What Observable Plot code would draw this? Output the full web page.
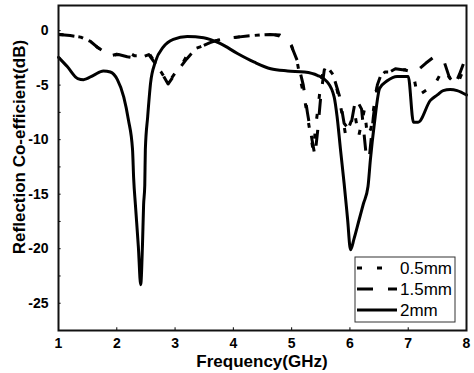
<!DOCTYPE html>
<html>
<head>
<meta charset="utf-8">
<script src="https://cdn.jsdelivr.net/npm/d3@7"></script>
<script src="https://cdn.jsdelivr.net/npm/@observablehq/plot@0.6"></script>
<style>
  html, body { margin: 0; padding: 0; background: #fff; }
  svg { font-family: "Liberation Sans", Arial, sans-serif; }
</style>
</head>
<body>
<div id="chart"></div>
<script>
// ---- data ----
const freq2mm = [1.0, 1.15, 1.33, 1.43, 1.6, 1.77, 1.89, 2.01, 2.12, 2.2, 2.27, 2.29, 2.32, 2.37, 2.41, 2.44, 2.46, 2.48, 2.49, 2.53, 2.58, 2.66, 2.8, 2.97, 3.21, 3.49, 3.78, 4.07, 4.36, 4.64, 4.93, 5.22, 5.44, 5.61, 5.73, 5.78, 5.84, 5.9, 5.96, 6.01, 6.07, 6.16, 6.23, 6.31, 6.35, 6.42, 6.51, 6.64, 6.81, 7.0, 7.09, 7.17, 7.38, 7.5, 7.6, 7.72, 7.84, 8.0];
const s2mm = [-2.45, -3.3, -4.4, -4.5, -4.1, -3.7, -3.8, -4.5, -6.1, -8.2, -10.9, -13.6, -16, -19.8, -23.3, -19.8, -16, -14.2, -10.9, -7.9, -4.8, -2.9, -1.5, -0.8, -0.55, -0.65, -1.2, -2.1, -2.9, -3.5, -3.7, -3.8, -4.1, -4.7, -6.1, -7.9, -11, -14, -17.3, -20.1, -19.1, -17.3, -15.9, -14.3, -11.9, -8.5, -5.3, -4.6, -4.2, -4.2, -8.4, -8.4, -6.4, -5.9, -5.5, -5.4, -5.5, -5.9];

const freq15mm = [1.0, 1.2, 1.38, 1.55, 1.66, 1.77, 1.9, 2.03, 2.18, 2.29, 2.36, 2.45, 2.55, 2.63, 2.7, 2.76, 2.88, 3.0, 3.1, 3.2, 3.3, 3.43, 3.6, 3.72, 3.9, 4.07, 4.24, 4.45, 4.63, 4.8, 4.9, 4.98, 5.1, 5.2, 5.27, 5.35, 5.4, 5.45, 5.5, 5.56, 5.65, 5.72, 5.82, 5.9, 6.0, 6.1, 6.2, 6.28, 6.33, 6.4, 6.47, 6.55, 6.65, 6.78, 6.9, 7.05, 7.15, 7.3, 7.42, 7.55, 7.62, 7.7, 7.8, 7.88, 7.95, 8.0];
const s15mm = [-0.35, -0.45, -0.6, -1.0, -1.5, -1.9, -2.3, -2.2, -2.4, -2.5, -2.6, -2.4, -2.2, -2.8, -3.3, -3.8, -4.9, -4.0, -3.3, -2.6, -2.0, -1.5, -1.1, -0.9, -0.7, -0.6, -0.5, -0.4, -0.35, -0.4, -0.7, -1.2, -2.8, -5.0, -7.5, -10.0, -11.5, -9.0, -6.0, -3.6, -3.8, -4.2, -6.0, -8.5, -9.2, -6.2, -7.2, -11.5, -11.8, -8.0, -5.0, -3.8, -3.9, -3.5, -3.6, -3.6, -3.7, -3.0, -2.5, -2.5, -2.9, -4.2, -5.0, -4.0, -3.0, -2.7];

const freq05mm = [1.0, 1.2, 1.38, 1.55, 1.66, 1.77, 1.9, 2.05, 2.2, 2.3, 2.4, 2.54, 2.63, 2.7, 2.76, 2.88, 3.0, 3.1, 3.18, 3.26, 3.43, 3.6, 3.72, 3.9, 4.07, 4.24, 4.45, 4.63, 4.8, 4.9, 5.0, 5.1, 5.15, 5.22, 5.3, 5.37, 5.42, 5.48, 5.55, 5.65, 5.72, 5.8, 5.86, 5.93, 6.0, 6.08, 6.15, 6.25, 6.3, 6.36, 6.45, 6.52, 6.6, 6.76, 6.93, 7.08, 7.16, 7.3, 7.45, 7.55, 7.62, 7.72, 7.84, 7.93, 8.0];
const s05mm = [-0.35, -0.45, -0.6, -1.0, -1.5, -1.9, -2.3, -2.1, -2.0, -2.3, -2.3, -2.0, -2.7, -3.4, -3.8, -4.8, -3.9, -3.3, -2.5, -1.8, -1.5, -1.1, -0.9, -0.7, -0.6, -0.5, -0.4, -0.3, -0.5, -0.8, -1.4, -3.0, -4.5, -6.2, -8.8, -11.0, -8.5, -5.8, -3.3, -3.6, -4.1, -5.9, -7.5, -9.7, -8.6, -7.5, -9.7, -7.2, -9.7, -9.0, -5.5, -4.2, -3.8, -3.8, -3.6, -3.8, -6.0, -5.5, -5.0, -4.0, -3.6, -4.4, -5.0, -3.8, -3.0];

const seriesNames = ["0.5mm", "1.5mm", "2mm"];
const xTicks = [1, 2, 3, 4, 5, 6, 7, 8];
const yTicks = [0, -5, -10, -15, -20, -25];
const yMinorTicks = [-2.5, -7.5, -12.5, -17.5, -22.5];
const xLabel = "Frequency(GHz)";
const yLabel = "Reflection Co-efficient(dB)";

// ---- styles ----
const dash = {"0.5mm": "5,15", "1.5mm": "16,15", "2mm": null};
const xDomain = [1, 8];
const yDomain = [-27.5, 2.3];
const FONT = "'Liberation Sans', Arial, sans-serif";

const toRows = (fs, vs, name) => fs.map((f, i) => ({f, v: vs[i], name}));
const rows05 = toRows(freq05mm, s05mm, "0.5mm");
const rows15 = toRows(freq15mm, s15mm, "1.5mm");
const rows2 = toRows(freq2mm, s2mm, "2mm");

const W = 474, H = 373;
const plot = Plot.plot({
  width: W,
  height: H,
  marginLeft: 58,
  marginRight: 8,
  marginTop: 5,
  marginBottom: 43,
  style: {fontFamily: FONT, color: "#000", background: "#fff"},
  x: {domain: xDomain},
  y: {domain: yDomain},
  marks: [
    Plot.axisX(xTicks, {tickSize: 0, tickPadding: 8, fontSize: 14, fontWeight: "bold", label: null, tickFormat: d => String(d)}),
    Plot.axisY(yTicks, {tickSize: 0, tickPadding: 10, fontSize: 14, fontWeight: "bold", label: null, tickFormat: d => String(d)}),
    Plot.ruleX(xTicks, {x: d => d, y1: yDomain[0], y2: yDomain[0] + 0.25, stroke: "#000", strokeWidth: 1}),
    Plot.ruleY(yTicks.concat(yMinorTicks), {y: d => d, x1: xDomain[0], x2: xDomain[0] + 0.045, stroke: "#000", strokeWidth: 1}),
    Plot.line(rows05, {x: "f", y: "v", stroke: "#000", strokeWidth: 3, strokeDasharray: dash["0.5mm"], strokeLinecap: "butt"}),
    Plot.line(rows15, {x: "f", y: "v", stroke: "#000", strokeWidth: 3, strokeDasharray: dash["1.5mm"], strokeLinecap: "butt"}),
    Plot.line(rows2, {x: "f", y: "v", stroke: "#000", strokeWidth: 3, curve: "monotone-x"}),
    Plot.frame({stroke: "#111", strokeWidth: 2})
  ]
});

const xs = plot.scale("x"), ys = plot.scale("y");
const frameLeft = xs.range[0], frameRight = xs.range[1];
const frameBottom = ys.range[0], frameTop = ys.range[1];
const svg = d3.select(plot);

// ---- axis titles ----
svg.append("text")
  .attr("x", (frameLeft + frameRight) / 2).attr("y", frameBottom + 37)
  .attr("text-anchor", "middle").attr("font-family", FONT)
  .attr("font-size", 17).attr("font-weight", "bold").attr("fill", "#000")
  .text(xLabel);
svg.append("text")
  .attr("transform", `translate(${frameLeft - 33},${frameTop + 142}) rotate(-90)`)
  .attr("text-anchor", "middle").attr("font-family", FONT)
  .attr("font-size", 17).attr("font-weight", "bold").attr("fill", "#000")
  .text(yLabel);

// ---- legend inside plot, bottom-right ----
const boxW = 100, boxH = 65;
const bx = frameRight - 11 - boxW, by = frameBottom - 8 - boxH;
const g = svg.append("g");
g.append("rect").attr("x", bx).attr("y", by).attr("width", boxW).attr("height", boxH)
  .attr("fill", "#fff").attr("stroke", "#333").attr("stroke-width", 1);
seriesNames.forEach((name, i) => {
  const yy = by + 11 + i * 21;
  const ln = g.append("line").attr("x1", bx + 2).attr("x2", bx + 42).attr("y1", yy).attr("y2", yy)
    .attr("stroke", "#000").attr("stroke-width", 3);
  if (dash[name]) ln.attr("stroke-dasharray", dash[name]);
  g.append("text").attr("x", bx + 45).attr("y", yy + 6).attr("font-size", 17)
    .attr("text-anchor", "start")
    .attr("font-family", FONT).attr("fill", "#000").text(name);
});

document.getElementById("chart").appendChild(plot);
</script>
</body>
</html>
